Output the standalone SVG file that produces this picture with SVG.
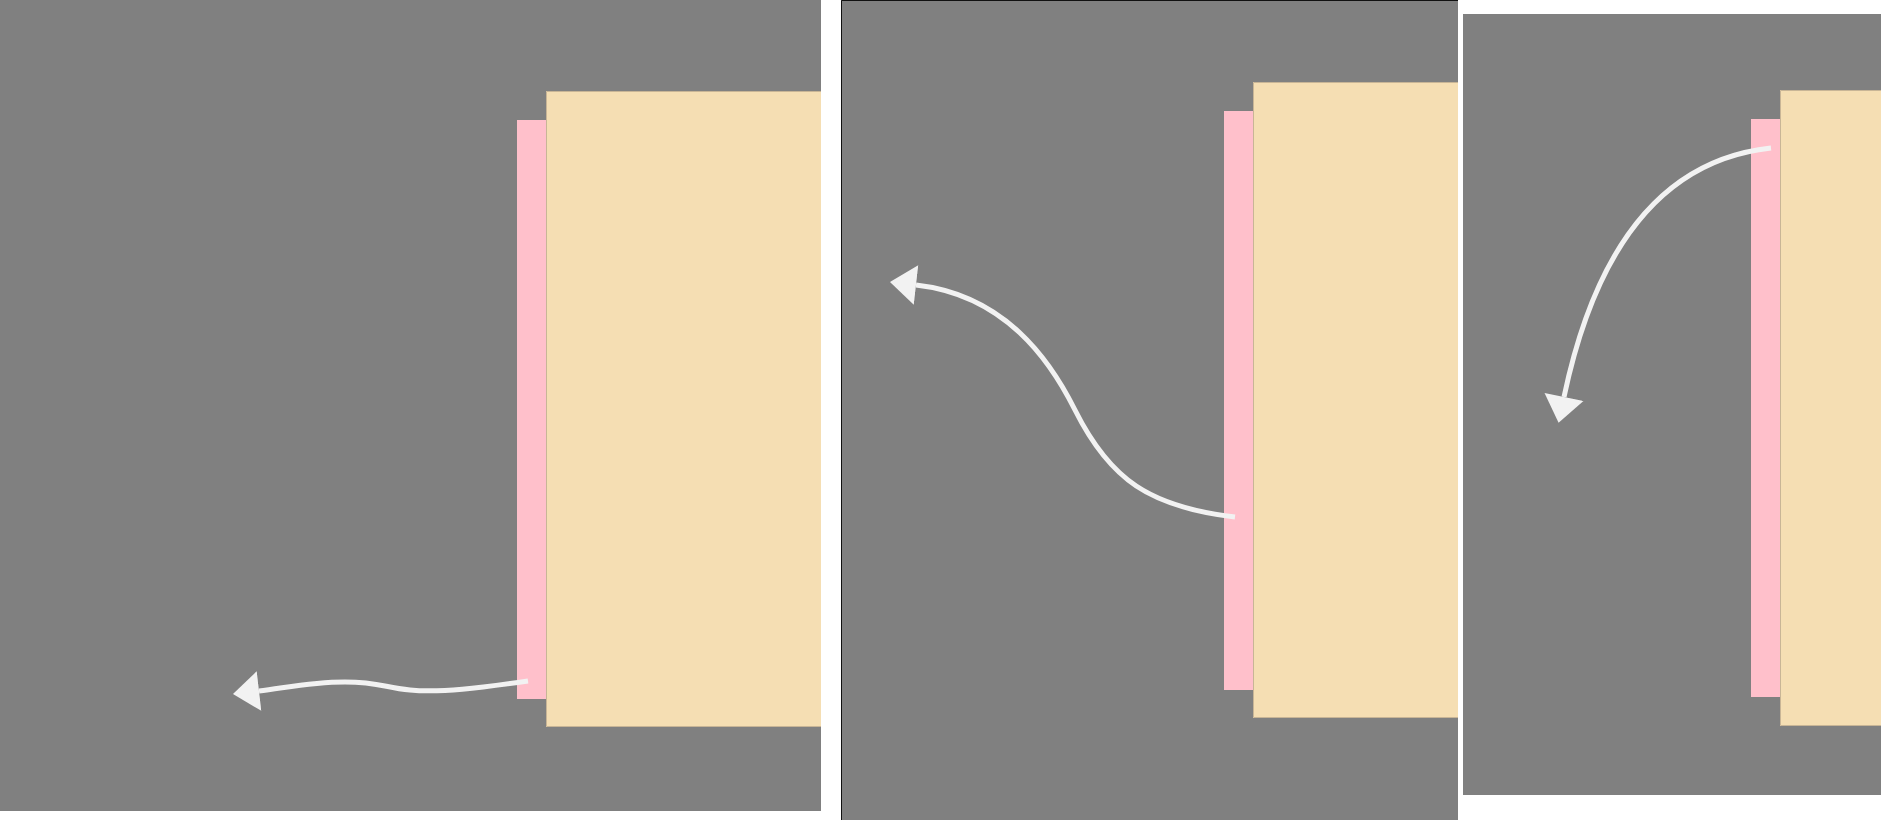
<svg xmlns="http://www.w3.org/2000/svg" width="1881" height="820" viewBox="0 0 1881 820">
<style>
.bg{fill:#808080}
.slab{fill:#f5deb3}
.edge{fill:none;stroke:#c8b596;stroke-width:1}
.strip{fill:#ffc0cb}
.conn{fill:none;stroke:#f2f2f2;stroke-width:5;stroke-linecap:butt}
</style>
<defs>
<marker id="head" markerUnits="userSpaceOnUse" markerWidth="30" markerHeight="44" viewBox="0 -21 28 42" refX="0" refY="0" orient="auto">
<path d="M0,-19 L25,0 L0,19 Z" fill="#f2f2f2"/>
</marker>
</defs>
<rect width="1881" height="820" fill="#ffffff"/>
<g id="panel1">
<rect class="bg" x="0" y="0" width="821" height="811"/>
<rect class="slab" x="546" y="91" width="275" height="636"/>
<path class="edge" d="M821,91.5 H546.5 V726.5 H821"/>
<rect class="strip" x="517" y="120" width="29" height="579"/>
</g>
<g id="panel2">
<rect class="bg" x="841" y="0" width="617" height="820"/>
<path d="M841.5,820 V0.5 H1458" fill="none" stroke="#111" stroke-width="1"/>
<rect class="slab" x="1253" y="82" width="205" height="636"/>
<path class="edge" d="M1458,82.5 H1253.5 V717.5 H1458"/>
<rect class="strip" x="1224" y="111" width="29" height="579"/>
</g>
<g id="panel3">
<rect class="bg" x="1463" y="14" width="418" height="781"/>
<rect class="slab" x="1780" y="90" width="101" height="636"/>
<path class="edge" d="M1881,90.5 H1780.5 V725.5 H1881"/>
<rect class="strip" x="1751" y="119" width="29" height="578"/>
</g>
<g id="connectors">
<path class="conn" marker-end="url(#head)" d="M528,681 C480,688 440,693 410,690 C385,688 380,682 345,682 C310,682 285,688 259,691"/>
<path class="conn" marker-end="url(#head)" d="M1235,517 C1150,507 1110,480 1075,410 C1050,360 1005,295 916,285"/>
<path class="conn" marker-end="url(#head)" d="M1771,148 C1660,160 1595,250 1564,397"/>
</g>
</svg>
